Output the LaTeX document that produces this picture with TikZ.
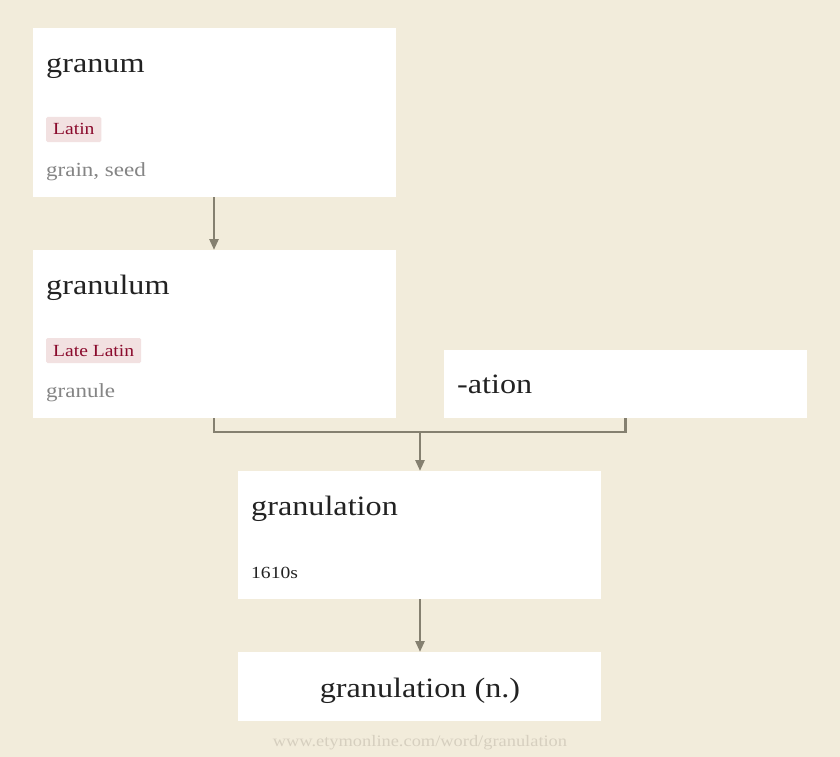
\documentclass[tikz,border=0pt]{standalone}
\usepackage{fontspec}
\setmainfont[FakeStretch=1.15]{Liberation Serif}
\usetikzlibrary{arrows.meta}
\definecolor{bg}{HTML}{F2ECDB}
\definecolor{conn}{HTML}{858070}
\definecolor{tagbg}{HTML}{F2E1E1}
\definecolor{tagfg}{HTML}{8A0A2C}
\definecolor{gloss}{HTML}{858585}
\definecolor{titlec}{HTML}{222222}
\definecolor{foot}{HTML}{D6CFBF}
\tikzset{
  wbox/.style={fill=white, draw=none, inner sep=0pt, anchor=north west},
  titletxt/.style={anchor=base west, inner sep=0pt, text=titlec, font=\fontsize{28}{32}\selectfont},
  tagtxt/.style={anchor=base west, fill=tagbg, text=tagfg, inner xsep=7pt, inner ysep=0pt, text height=18pt, text depth=7pt, rounded corners=1.5pt, font=\fontsize{17}{20}\selectfont},
  glosstxt/.style={anchor=base west, inner sep=0pt, text=gloss, font=\fontsize{20}{24}\selectfont},
  datetxt/.style={anchor=base west, inner sep=0pt, text=titlec, font=\fontsize{17}{20}\selectfont},
  conline/.style={draw=conn, line width=2.6pt},
  arr/.style={conline, -{Triangle[width=9pt,length=11pt]}}
}
\begin{document}
\begin{tikzpicture}[x=1pt,y=-1pt]
\useasboundingbox (0,0) rectangle (840,757);
\fill[bg] (0,0) rectangle (840,757);
% boxes
\node[wbox, minimum width=363pt, minimum height=169pt] (b1) at (33,28) {};
\node[wbox, minimum width=363pt, minimum height=168pt] (b2) at (33,250) {};
\node[wbox, minimum width=363pt, minimum height=68pt] (b3) at (444,350) {};
\node[wbox, minimum width=363pt, minimum height=128pt] (b4) at (238,471) {};
\node[wbox, minimum width=363pt, minimum height=69pt] (b5) at (238,652) {};
% texts
\node[titletxt] (t1) at (46,73) {granum};
\node[tagtxt] (g1) at (46,135) {Latin};
\node[glosstxt] (s1) at (46,176) {grain, seed};
\node[titletxt] (t2) at (46,294) {granulum};
\node[tagtxt] (g2) at (46,356) {Late Latin};
\node[glosstxt] (s2) at (46,397) {granule};
\node[titletxt] (t3) at (457,393) {-ation};
\node[titletxt] (t4) at (251,515) {granulation};
\node[datetxt] (d4) at (251,578) {1610s};
\node[titletxt, anchor=base] (t5) at (420,697) {granulation (n.)};
\node[anchor=base, inner sep=0pt, text=foot, font=\fontsize{16}{19}\selectfont] (ft) at (420,746) {www.etymonline.com/word/granulation};
% connectors
\draw[arr] (b1.south -| 214,0) -- (b2.north -| 214,0);
\coordinate (m) at (420,432);
\draw[conline] (b2.south -| 214,0) |- (m) -| (b3.south);
\draw[arr] (m) -- (b4.north -| m);
\draw[arr] (b4.south -| 420,0) -- (b5.north -| 420,0);
\end{tikzpicture}
\end{document}
